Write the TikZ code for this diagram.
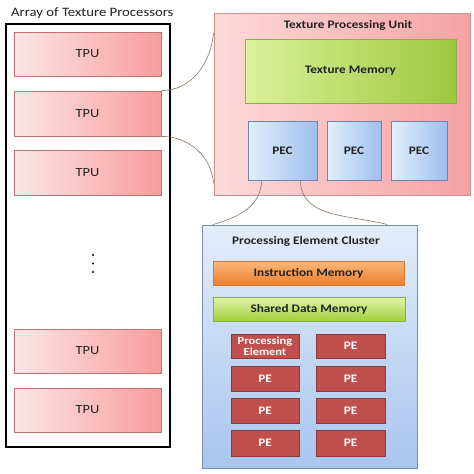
\documentclass[tikz,border=0pt]{standalone}
\usepackage{fontspec}
\setmainfont{Carlito}[FakeStretch=1.15]
\usetikzlibrary{shadows}
\definecolor{tpuL}{HTML}{FDE6E6}
\definecolor{tpuR}{HTML}{F79C9C}
\definecolor{tpuB}{HTML}{C07272}
\definecolor{unitL}{HTML}{FCDADA}
\definecolor{unitR}{HTML}{F6A2A2}
\definecolor{texL}{HTML}{DDF19A}
\definecolor{texR}{HTML}{9CC83E}
\definecolor{texB}{HTML}{8AAE48}
\definecolor{pecL}{HTML}{E2EEFB}
\definecolor{pecR}{HTML}{9EBFEE}
\definecolor{pecB}{HTML}{6A86AE}
\definecolor{clT}{HTML}{E2EDFA}
\definecolor{clB}{HTML}{A9C5EE}
\definecolor{clBd}{HTML}{7390B6}
\definecolor{insT}{HTML}{FAB87A}
\definecolor{insB}{HTML}{EE7E2C}
\definecolor{insBd}{HTML}{D07A3A}
\definecolor{shT}{HTML}{E2F5A8}
\definecolor{shB}{HTML}{A2D040}
\definecolor{peF}{HTML}{C0504D}
\definecolor{peB}{HTML}{8C3836}
\definecolor{conn}{HTML}{8A7462}
\definecolor{txt}{HTML}{222222}
\tikzset{
  box/.style={rectangle, inner sep=0pt, anchor=center, text=txt, font=\bfseries\fontsize{11.5}{12}\selectfont},
  shad/.style={drop shadow={shadow xshift=1.2pt, shadow yshift=-1.2pt, opacity=0.35, fill=black!50}},
  tpubox/.style={box, shad, draw=tpuB, line width=0.8pt, left color=tpuL, right color=tpuR, font=\fontsize{12.5}{13}\selectfont},
  unitbox/.style={box, shad, draw=tpuB!80, line width=0.8pt, left color=unitL, right color=unitR},
  texbox/.style={box, shad, draw=texB, line width=0.8pt, left color=texL, right color=texR},
  pecbox/.style={box, shad, draw=pecB, line width=0.8pt, left color=pecL, right color=pecR},
  clbox/.style={box, shad, draw=clBd, line width=0.8pt, top color=clT, bottom color=clB},
  insbox/.style={box, shad, draw=insBd, line width=0.6pt, top color=insT, bottom color=insB},
  shbox/.style={box, shad, draw=texB, line width=0.6pt, top color=shT, bottom color=shB},
  pebox/.style={box, shad, draw=peB, line width=0.8pt, fill=peF, text=white, align=center, font=\bfseries\fontsize{11.5}{10.5}\selectfont},
  conline/.style={draw=conn, line width=0.6pt},
}
\begin{document}
\begin{tikzpicture}[x=1pt,y=-1pt]
\useasboundingbox (0,0) rectangle (474,474);
\fill[white] (0,0) rectangle (474,474);
% left array
\node[anchor=west, text=txt, font=\fontsize{12.8}{13}\selectfont, inner sep=0pt] (title) at (11,13) {Array of Texture Processors};
\node[box, draw=black, line width=2.2pt, minimum width=164pt, minimum height=423pt] (array) at (88,235.5) {};
\node[tpubox, minimum width=147pt, minimum height=44pt] (tpu1) at (87.5,54) {TPU};
\node[tpubox, minimum width=147pt, minimum height=45pt] (tpu2) at (87.5,113.5) {TPU};
\node[tpubox, minimum width=147pt, minimum height=45pt] (tpu3) at (87.5,172.5) {TPU};
\node[box, minimum width=4pt, minimum height=20pt] (dots) at (93,263.5) {};
\foreach \dy in {-8.5,0,8.5} \fill[black] ([yshift=\dy pt]dots.center) circle (1.2pt);
\node[tpubox, minimum width=147pt, minimum height=44pt] (tpu4) at (87.5,351) {TPU};
\node[tpubox, minimum width=147pt, minimum height=44pt] (tpu5) at (87.5,410) {TPU};
% texture processing unit
\node[unitbox, minimum width=256pt, minimum height=182pt] (unit) at (342,104) {};
\node[box] (unittitle) at (348,25) {Texture Processing Unit};
\node[texbox, minimum width=211pt, minimum height=64pt] (texmem) at (350.5,71) {Texture Memory};
\node[pecbox, minimum width=69pt, minimum height=59pt] (pec1) at (282.5,150.5) {PEC};
\node[pecbox, minimum width=54pt, minimum height=59pt] (pec2) at (354,150.5) {PEC};
\node[pecbox, minimum width=56pt, minimum height=59pt] (pec3) at (419,150.5) {PEC};
% cluster
\node[clbox, minimum width=215pt, minimum height=243pt] (cluster) at (309.5,346.5) {};
\node[box] (cltitle) at (306,241) {Processing Element Cluster};
\node[insbox, minimum width=191pt, minimum height=24pt] (instr) at (308.5,273) {Instruction Memory};
\node[shbox, minimum width=192pt, minimum height=24pt] (shared) at (309,309) {Shared Data Memory};
\node[pebox, minimum width=68pt, minimum height=24pt, font=\bfseries\fontsize{10.8}{10.5}\selectfont] (pe11) at (265,346) {Processing\\Element};
\node[pebox, minimum width=69pt, minimum height=24pt] (pe12) at (350.5,346) {PE};
\node[pebox, minimum width=68pt, minimum height=25pt] (pe21) at (265,378.5) {PE};
\node[pebox, minimum width=69pt, minimum height=25pt] (pe22) at (350.5,378.5) {PE};
\node[pebox, minimum width=68pt, minimum height=25pt] (pe31) at (265,410.5) {PE};
\node[pebox, minimum width=69pt, minimum height=25pt] (pe32) at (350.5,410.5) {PE};
\node[pebox, minimum width=68pt, minimum height=26pt] (pe41) at (265,443) {PE};
\node[pebox, minimum width=69pt, minimum height=26pt] (pe42) at (350.5,443) {PE};
% connectors
\coordinate (u1) at ([yshift=-20pt]unit.north west);
\coordinate (u2) at ([yshift=12pt]unit.south west);
\coordinate (c1) at ([xshift=11pt]cluster.north west);
\coordinate (c2) at ([xshift=-30pt]cluster.north east);
\coordinate (p1) at ([xshift=-21pt]pec1.south);
\coordinate (p2) at ([xshift=18pt]pec1.south);
\draw[conline] (tpu2.north east) to[out=0, in=-95] (u1);
\draw[conline] (tpu2.south east) to[out=0, in=95] (u2);
\draw[conline] (p1) to[out=-90, in=15] (c1);
\draw[conline] (p2) to[out=-90, in=165] (c2);
\end{tikzpicture}
\end{document}
